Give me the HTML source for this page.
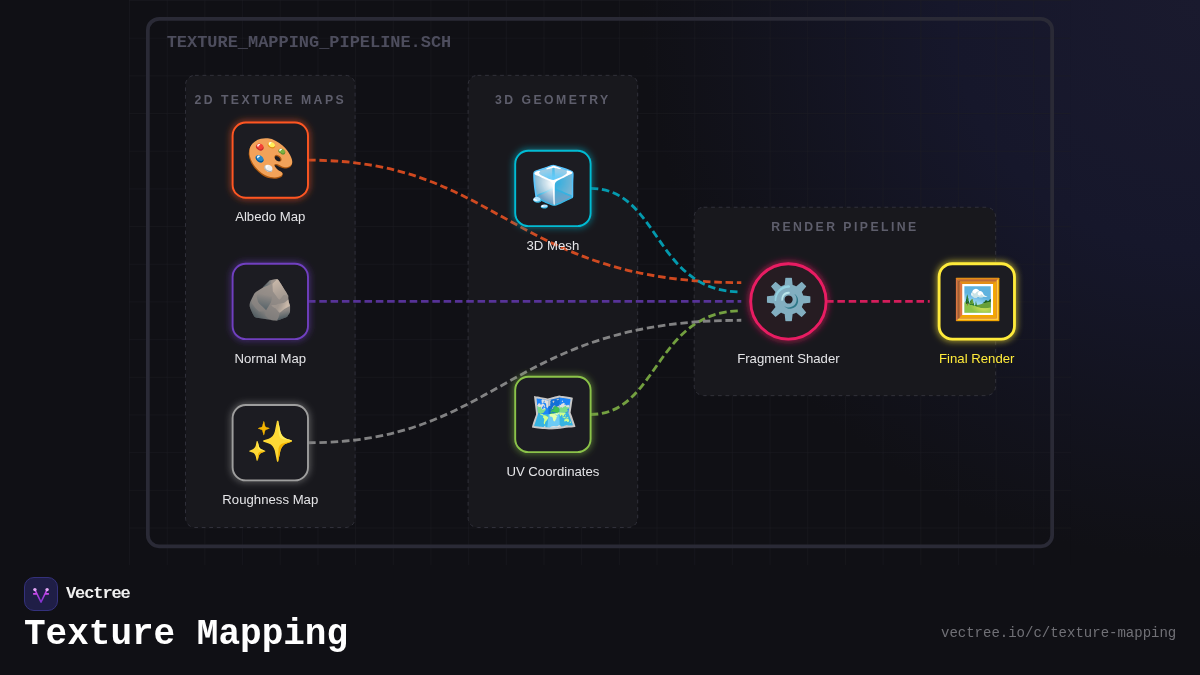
<!DOCTYPE html>
<html>
<head>
<meta charset="utf-8">
<style>
html,body{margin:0;padding:0;}
body{width:1200px;height:675px;overflow:hidden;position:relative;
  background:radial-gradient(circle at 100% 0%, #1a1a2e 0px, #16172b 250px, #101015 560px);
  font-family:"Liberation Sans", sans-serif;}
#diagram{position:absolute;left:129px;top:0;width:942px;height:565.2px;will-change:transform;}
.logo{position:absolute;left:24px;top:577px;width:32px;height:32px;border-radius:10px;background:#1f1e46;border:1px solid #34317c;}
.brand{position:absolute;left:66px;top:585.2px;font-family:"Liberation Mono", monospace;font-weight:bold;font-size:17px;letter-spacing:-1.1px;line-height:18px;color:#f0f0f0;will-change:transform;}
.title{position:absolute;left:24px;top:615px;font-family:"Liberation Mono", monospace;font-weight:bold;font-size:36px;line-height:40px;color:#ffffff;will-change:transform;}
.url{position:absolute;right:24px;top:625px;font-family:"Liberation Mono", monospace;font-size:14px;line-height:16px;color:#707076;will-change:transform;}
</style>
</head>
<body>
<svg id="diagram" viewBox="0 0 1000 600">
  <defs>
    <pattern id="grid" width="40" height="40" patternUnits="userSpaceOnUse">
      <path d="M 40 0 L 0 0 0 40" fill="none" stroke="#1c1c24" stroke-width="1"/>
    </pattern>
    <filter id="glow" x="-50%" y="-50%" width="200%" height="200%">
      <feGaussianBlur stdDeviation="4" result="b"/>
      <feMerge><feMergeNode in="b"/><feMergeNode in="SourceGraphic"/></feMerge>
    </filter>
  </defs>
  <rect x="0" y="0" width="1000" height="600" fill="url(#grid)"/>
  <rect x="20" y="20" width="960" height="560" rx="12" fill="none" stroke="#2a2a36" stroke-width="4"/>
  <text x="40" y="50" font-family="Liberation Mono, monospace" font-weight="bold" font-size="18" fill="#4d4d5d">TEXTURE_MAPPING_PIPELINE.SCH</text>

  <!-- groups -->
  <g fill="#18181d" stroke="#33333d" stroke-width="1" stroke-dasharray="4 4">
    <rect x="60" y="80" width="180" height="480" rx="10"/>
    <rect x="360" y="80" width="180" height="480" rx="10"/>
    <rect x="600" y="220" width="320" height="200" rx="10"/>
  </g>
  <g font-family="Liberation Sans, sans-serif" font-weight="bold" font-size="13" fill="#5e5e6c" letter-spacing="2.6" text-anchor="middle">
    <text x="150" y="110">2D TEXTURE MAPS</text>
    <text x="450" y="110">3D GEOMETRY</text>
    <text x="760" y="245">RENDER PIPELINE</text>
  </g>

  <!-- connections -->
  <g fill="none" stroke-width="3" stroke-dasharray="8 4" opacity="0.8">
    <path d="M190 170 C395 170 405 300 650 300" stroke="#ff5722"/>
    <path d="M490 200 C564 200 557 310 650 310" stroke="#00bcd4"/>
    <path d="M190 320 L650 320" stroke="#673ab7"/>
    <path d="M490 440 C562 440 558 330 650 330" stroke="#8bc34a"/>
    <path d="M190 470 C395 470 400 340 650 340" stroke="#9e9e9e"/>
  </g>
  <path d="M740 320 L850 320" fill="none" stroke="#e91e63" stroke-width="3" stroke-dasharray="8 4" opacity="0.9"/>

  <!-- nodes -->
  <g filter="url(#glow)">
    <rect x="110" y="130" width="80" height="80" rx="14" fill="#1c1b20" stroke="#ff5722" stroke-width="2"/>
    <rect x="110" y="280" width="80" height="80" rx="14" fill="#1c1b20" stroke="#7040c0" stroke-width="2"/>
    <rect x="110" y="430" width="80" height="80" rx="14" fill="#1c1b20" stroke="#9e9e9e" stroke-width="2"/>
    <rect x="410" y="160" width="80" height="80" rx="14" fill="#1c1b20" stroke="#00bcd4" stroke-width="2"/>
    <rect x="410" y="400" width="80" height="80" rx="14" fill="#1c1b20" stroke="#8bc34a" stroke-width="2"/>
    <circle cx="700" cy="320" r="40" fill="#281a21" stroke="#e91e63" stroke-width="3"/>
    <rect x="860" y="280" width="80" height="80" rx="14" fill="#1c1b20" stroke="#ffeb3b" stroke-width="3"/>
  </g>
  <g font-family="Liberation Sans, sans-serif" font-size="42" text-anchor="middle" dominant-baseline="central" transform="translate(0.6,-2.2)">
    <text x="150" y="170">🎨</text>
    <text x="150" y="320">🪨</text>
    <text x="150" y="470">✨</text>
    <text x="450" y="200">🧊</text>
    <text x="450" y="440">🗺️</text>
    <text x="700" y="320">⚙️</text>
    <text x="900" y="320">🖼️</text>
  </g>
  <g font-family="Liberation Sans, sans-serif" font-size="14" fill="#e4e4e7" text-anchor="middle">
    <text x="150" y="235">Albedo Map</text>
    <text x="150" y="385">Normal Map</text>
    <text x="150" y="535">Roughness Map</text>
    <text x="450" y="265">3D Mesh</text>
    <text x="450" y="505">UV Coordinates</text>
    <text x="700" y="385">Fragment Shader</text>
    <text x="900" y="385" fill="#ffeb3b">Final Render</text>
  </g>
</svg>

<div class="logo">
  <svg width="32" height="32" viewBox="0 0 32 32" style="position:absolute;left:0;top:0">
    <defs><linearGradient id="lg" x1="0" y1="11" x2="0" y2="25" gradientUnits="userSpaceOnUse"><stop offset="0" stop-color="#d54ef0"/><stop offset="1" stop-color="#7b2fcc"/></linearGradient></defs>
    <path d="M9.9 11.6 L16 24.2 L22.1 11.6" stroke="url(#lg)" stroke-width="1.5" fill="none" stroke-linejoin="round"/>
    <path d="M8.1 15.8 L11.8 15.8 M20.2 15.8 L23.9 15.8" stroke="#c848ea" stroke-width="1.7" fill="none"/>
    <circle cx="9.9" cy="11.6" r="1.7" fill="#e3a6f5"/>
    <circle cx="22.1" cy="11.6" r="1.7" fill="#e3a6f5"/>
  </svg>
</div>
<div class="brand">Vectree</div>
<div class="title">Texture Mapping</div>
<div class="url">vectree.io/c/texture-mapping</div>
</body>
</html>
